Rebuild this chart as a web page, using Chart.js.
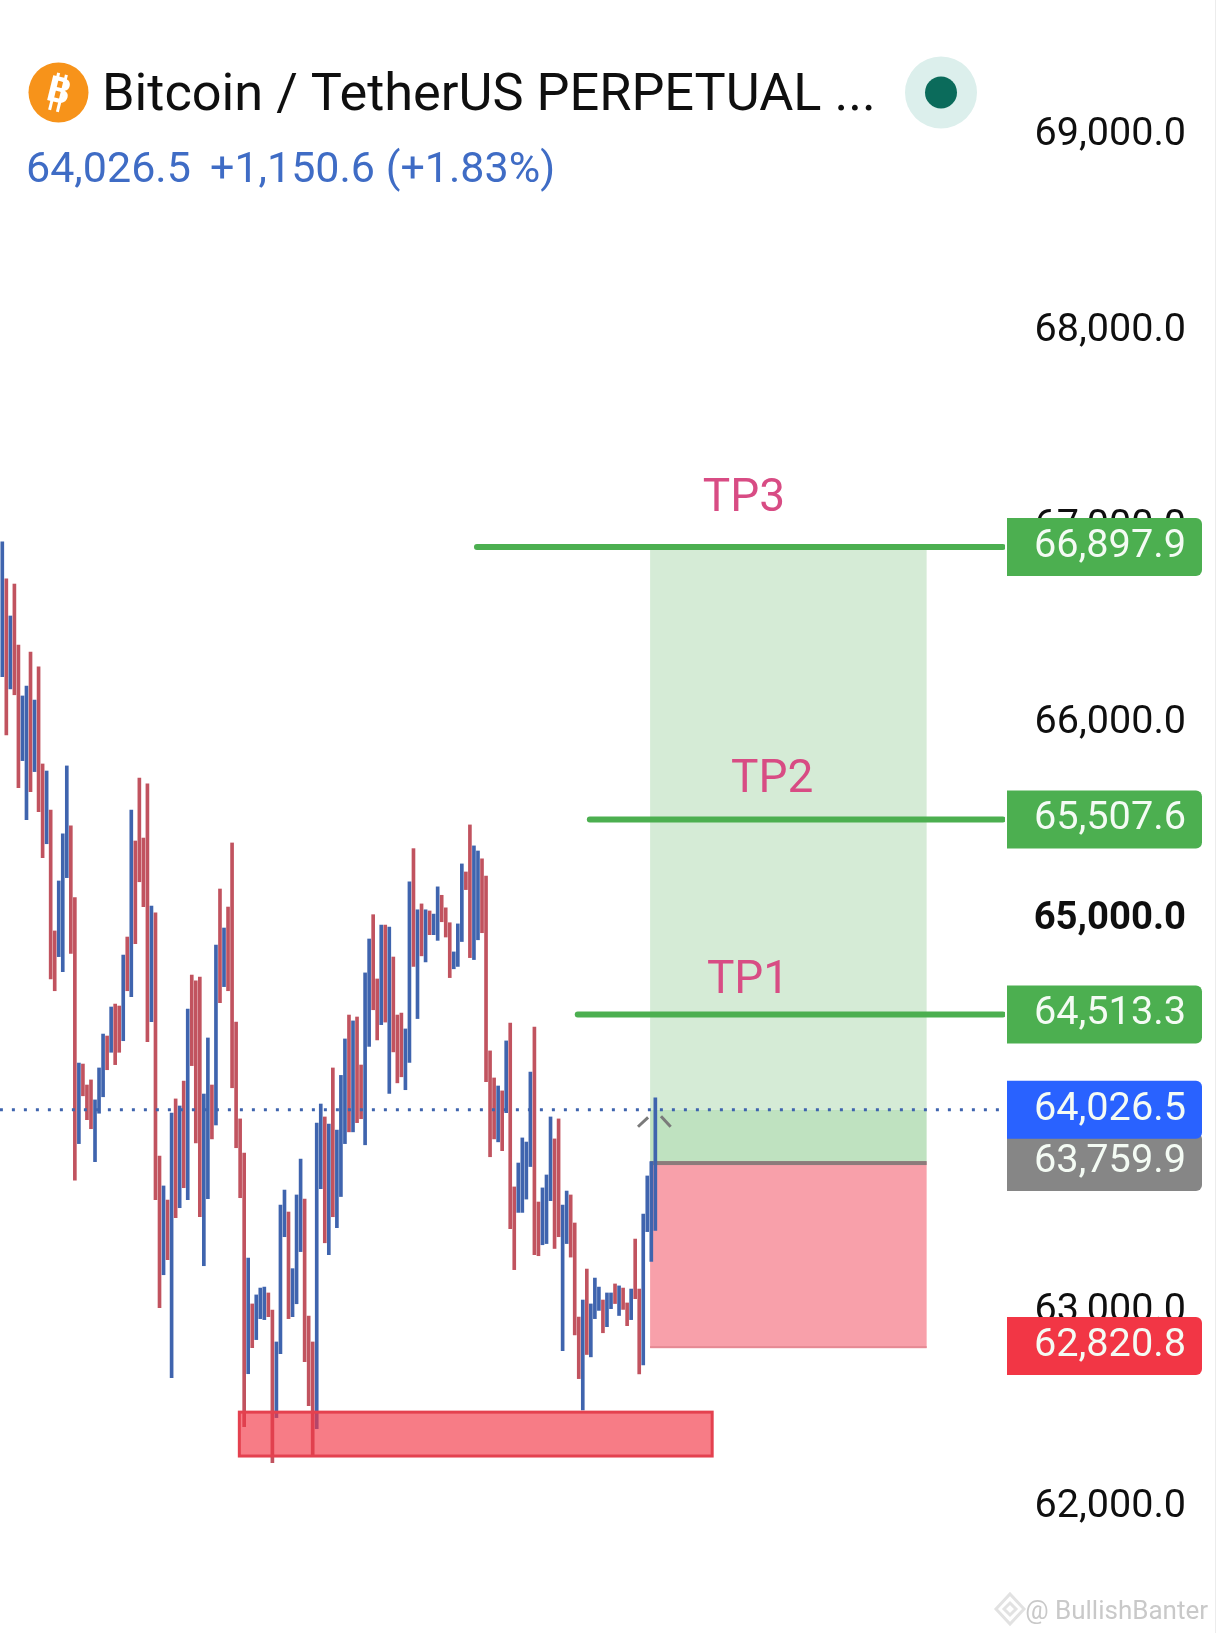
<!DOCTYPE html>
<html>
<head>
<meta charset="utf-8">
<title>BTCUSDT</title>
<script src="https://cdn.jsdelivr.net/npm/chart.js@4"></script>
<style>
  html, body { margin: 0; padding: 0; background: #fff; }
  canvas { display: block; }
</style>
</head>
<body>
<canvas id="grafico" width="1216" height="1633"></canvas>
<script>
// Bar highs, lows and direction
const highs = [
  66924,66735,66546,66709,66398,66138,66189,66362,66117,66286,65791,65755,65556,64939,65194,65434,65781,65475,65109,64265,
  64260,64153,64179,64077,64240,64413,64403,64551,64566,64556,64816,64908,65556,65398,65719,65413,65689,65066,65031,63791,
  63638,63566,64010,64082,64046,64173,64541,64714,64684,64704,64107,64393,64153,64867,65153,64954,65061,65388,64474,63980,
  63806,63270,63036,63082,63117,63122,63092,63005,62842,63541,63617,63505,63216,63592,63775,63571,62974,62842,63959,64056,
  63990,63954,64240,63923,64202,64388,64510,64480,64500,64255,64725,64898,65022,64694,64969,64969,64959,64806,64510,64520,
  64439,65189,65359,65047,65077,65047,65041,65025,65164,65121,65057,64981,64832,64975,65281,65240,65480,65373,65347,65307,
  65219,64327,64189,64148,64123,64378,64469,63633,63755,63883,63862,64219,64449,63556,63628,63694,63990,63878,63980,63541,
  63612,63592,63449,62969,63056,63214,63036,63168,63122,63056,63092,63092,63138,63128,63117,63041,63112,63367,63112,63495,
  63689,63762,64088
];
const lows = [
  66236,65939,66174,66144,65670,65808,65507,65650,65752,65548,65313,65384,64694,64634,64808,64731,65211,64825,63667,63854,
  64098,63976,63930,63762,64009,64093,64231,64320,64257,64320,64379,64634,64604,64874,65190,65063,64374,64476,63568,63017,
  63185,63262,62660,63476,63527,63629,63568,64252,63857,63481,63231,63573,63878,63949,64573,64655,64634,64139,63833,63578,
  62410,62680,62813,62854,62961,62956,62971,62226,62456,62782,63379,62961,62971,63037,63303,62741,62517,62265,62400,63624,
  63348,63287,63481,63425,63584,63854,63914,63914,63961,63981,63848,64350,64537,64383,64461,64474,64110,64322,64164,64195,
  64129,64268,64758,64492,64812,64781,64920,64920,64891,64986,64908,64701,64746,64758,64885,65150,64803,64793,64894,64930,
  64170,63787,63878,63863,63818,64012,63420,63211,63503,63503,63571,63737,63288,63282,63338,63344,63563,63319,63379,62797,
  63344,63275,62878,62655,62495,62778,62766,62961,63003,62889,62920,63012,63038,62977,63008,62925,62956,63063,62679,62725,
  63405,63253,63411
];
// 1 = blue bar, 0 = red bar
const upBars = [
  1,0,1,0,0,1,1,0,1,0,0,1,0,0,1,1,1,0,0,1,
  0,0,0,1,1,1,0,1,0,0,1,0,1,0,0,0,0,1,0,0,
  1,0,1,0,1,0,1,0,0,0,1,1,0,1,0,1,0,0,0,0,
  0,1,0,1,1,1,0,0,1,1,1,0,1,1,1,0,0,0,1,1,
  0,1,0,1,1,1,0,1,0,0,1,1,0,0,1,0,1,0,0,0,
  1,1,0,1,0,1,0,1,1,0,0,0,1,1,1,0,0,1,1,0,
  0,0,0,1,0,1,0,0,1,1,1,1,0,0,1,1,1,0,0,1,
  1,0,0,0,1,0,1,1,1,0,1,1,0,1,0,0,1,0,0,1,
  1,1,1
];

const yTicks = [62000, 63000, 64000, 65000, 66000, 67000, 68000, 69000];
const boldTick = 65000;

const titleText = "Bitcoin / TetherUS PERPETUAL ...";
const lastPrice = 64026.5;
const change = "+1,150.6";
const changePct = "(+1.83%)";

const tpNames = ["TP1", "TP2", "TP3"];
const tpPrices = [64513.3, 65507.6, 66897.9];
const tpStarts = [142.75, 145.75, 117.75];
const tpLabelPrices = [64681, 65706, 67140];
const tpLabelCenters = [185, 191, 184];
const entryPrice = 63759.9;
const stopPrice = 62820.8;
const zoneLow = 62260;
const zoneHigh = 62484;

// Bar index of the ends of the drawings
const lineEnd = 248.2;
const positionStart = 160.7;
const positionEnd = 229.3;
const zoneStart = 58.8;
const zoneEnd = 176.1;

const chevronLeftX = [157.7, 160.2];
const chevronLeftY = [63940, 63988];
const chevronRightX = [163.4, 165.8];
const chevronRightY = [63994, 63940];

const AZUL = "#3f64ae";
const ROJO = "#c1535f";
const VERDE = "#4caf50";
const FUENTE = "Roboto";

function fmt(v) {
    return v.toLocaleString("en-US", { minimumFractionDigits: 1, maximumFractionDigits: 1 });
}

function linea(xs, ys, color, width, extra) {
    return Object.assign({
        type: "line",
        data: xs.map((x, i) => ({ x: x, y: ys[i] })),
        borderColor: color,
        borderWidth: width,
        pointRadius: 0,
        tension: 0,
        order: 0
    }, extra || {});
}

function etiqueta(ctx, y, text, color) {
    ctx.fillStyle = color;
    ctx.beginPath();
    ctx.roundRect(1007, y - 29, 195, 58, [0, 6, 6, 0]);
    ctx.fill();
    ctx.fillStyle = "#f4fbf4";
    ctx.font = "39.7px " + FUENTE;
    ctx.textAlign = "right";
    ctx.textBaseline = "middle";
    ctx.fillText(text, 1186, y);
}

const zonas = {
    id: "zonas",
    beforeDatasetsDraw(chart) {
        const { ctx, scales: { x, y } } = chart;
        const l = x.getPixelForValue(positionStart);
        const r = x.getPixelForValue(positionEnd);
        const top = y.getPixelForValue(tpPrices[2]);
        const last = y.getPixelForValue(lastPrice);
        const entry = y.getPixelForValue(entryPrice);
        const stop = y.getPixelForValue(stopPrice);
        ctx.save();
        ctx.fillStyle = "#d5ebd6";
        ctx.fillRect(l, top, r - l, last - top);
        ctx.fillStyle = "#bfe2c0";
        ctx.fillRect(l, last, r - l, entry - last);
        ctx.fillStyle = "#f8a0aa";
        ctx.fillRect(l, entry, r - l, stop - entry + 2);
        ctx.fillStyle = "#e58a94";
        ctx.fillRect(l, stop, r - l, 2);
        ctx.fillStyle = "#8c7b7b";
        ctx.fillRect(l, entry - 1, r - l, 4);
        ctx.restore();
    },
    afterDatasetsDraw(chart) {
        const { ctx, scales: { x, y } } = chart;
        ctx.save();

        // Caja roja de soporte, encima de las barras
        const zl = x.getPixelForValue(zoneStart);
        const zr = x.getPixelForValue(zoneEnd);
        const zt = y.getPixelForValue(zoneHigh);
        const zb = y.getPixelForValue(zoneLow);
        ctx.fillStyle = "rgba(242,54,69,0.65)";
        ctx.fillRect(zl, zt, zr - zl, zb - zt);
        ctx.strokeStyle = "#e4414f";
        ctx.lineWidth = 3;
        ctx.strokeRect(zl, zt, zr - zl, zb - zt);

        // Textos TP
        ctx.fillStyle = "#d84c84";
        ctx.font = "46px " + FUENTE;
        ctx.textAlign = "center";
        ctx.textBaseline = "middle";
        tpNames.forEach((name, i) => {
            ctx.fillText(name, x.getPixelForValue(tpLabelCenters[i]), y.getPixelForValue(tpLabelPrices[i]));
        });

        // Etiquetas de precio
        tpPrices.forEach(p => etiqueta(ctx, y.getPixelForValue(p), fmt(p), VERDE));
        etiqueta(ctx, y.getPixelForValue(entryPrice), fmt(entryPrice), "#868686");
        etiqueta(ctx, y.getPixelForValue(lastPrice), fmt(lastPrice), "#2962ff");
        etiqueta(ctx, y.getPixelForValue(stopPrice), fmt(stopPrice), "#f23645");

        // Cabecera
        ctx.textAlign = "left";
        ctx.textBaseline = "alphabetic";
        ctx.fillStyle = "#f7931a";
        ctx.beginPath();
        ctx.arc(58.5, 92.5, 30, 0, Math.PI * 2);
        ctx.fill();
        ctx.save();
        ctx.translate(58.5, 92.5);
        ctx.rotate(0.24);
        ctx.fillStyle = "#fff";
        ctx.font = "bold 36px " + FUENTE;
        ctx.textAlign = "center";
        ctx.textBaseline = "middle";
        ctx.fillText("B", 0, 1);
        ctx.fillRect(-6, -19, 3, 38);
        ctx.fillRect(2, -19, 3, 38);
        ctx.restore();

        ctx.fillStyle = "#0f0f0f";
        ctx.font = "52.3px " + FUENTE;
        ctx.fillText(titleText, 102, 110);

        ctx.fillStyle = "#dcefec";
        ctx.beginPath();
        ctx.arc(941, 92.5, 36, 0, Math.PI * 2);
        ctx.fill();
        ctx.fillStyle = "#0b6b5b";
        ctx.beginPath();
        ctx.arc(941, 92.5, 16, 0, Math.PI * 2);
        ctx.fill();

        ctx.fillStyle = "#3f6cc5";
        ctx.font = "43px " + FUENTE;
        ctx.fillText(fmt(lastPrice), 26, 182);
        ctx.fillText(change + " " + changePct, 210, 182);

        // Marca de agua
        ctx.fillStyle = "#c9c9c9";
        ctx.font = "26px " + FUENTE;
        ctx.textAlign = "right";
        ctx.fillText("@ BullishBanter", 1208, 1619);
        ctx.strokeStyle = "#e2e2e2";
        ctx.lineWidth = 3;
        ctx.beginPath();
        ctx.moveTo(1010, 1594);
        ctx.lineTo(1024, 1609);
        ctx.lineTo(1010, 1624);
        ctx.lineTo(996, 1609);
        ctx.closePath();
        ctx.moveTo(1010, 1603);
        ctx.lineTo(1016, 1609);
        ctx.lineTo(1010, 1615);
        ctx.lineTo(1004, 1609);
        ctx.closePath();
        ctx.stroke();

        // Borde derecho de la captura
        ctx.fillStyle = "#ececec";
        ctx.fillRect(1215, 0, 1, 1633);
        ctx.restore();
    }
};

const barras = highs.map((h, i) => ({ x: i, y: [lows[i], h] }));

new Chart(document.getElementById("grafico").getContext("2d"), {
    type: "bar",
    data: {
        datasets: [
            {
                data: barras,
                backgroundColor: upBars.map(u => (u ? AZUL : ROJO)),
                barThickness: 3,
                grouped: false,
                order: 1
            },
            linea([-0.6, lineEnd], [lastPrice, lastPrice], "#3f64ae", 3, { borderDash: [3, 9] }),
            linea([tpStarts[0], lineEnd], [tpPrices[0], tpPrices[0]], VERDE, 6, { borderCapStyle: "round" }),
            linea([tpStarts[1], lineEnd], [tpPrices[1], tpPrices[1]], VERDE, 6, { borderCapStyle: "round" }),
            linea([tpStarts[2], lineEnd], [tpPrices[2], tpPrices[2]], VERDE, 6, { borderCapStyle: "round" }),
            linea(chevronLeftX, chevronLeftY, "#7a7a7a", 3),
            linea(chevronRightX, chevronRightY, "#7a7a7a", 3)
        ]
    },
    options: {
        responsive: false,
        animation: false,
        devicePixelRatio: 1,
        // el texto del eje termina en 1186, igual que en la captura
        layout: { padding: { left: 0, top: 0, bottom: 0, right: 30 } },
        plugins: { legend: { display: false }, tooltip: { enabled: false } },
        scales: {
            x: {
                type: "linear",
                display: false,
                offset: false,
                min: -0.5706,
                max: 248.74
            },
            y: {
                position: "right",
                min: 61357.1,
                max: 69688.8,
                grid: { display: false, drawTicks: false },
                border: { display: false },
                afterBuildTicks(scale) {
                    scale.ticks = yTicks.map(v => ({ value: v }));
                },
                afterFit(scale) {
                    // que el area llegue a los bordes del lienzo
                    scale.width = 181;
                    scale.paddingTop = 0;
                    scale.paddingBottom = 0;
                },
                ticks: {
                    autoSkip: false,
                    padding: 0,
                    crossAlign: "far",
                    labelOffset: 0,
                    color: "#0f0f0f",
                    font: c => (c.tick && c.tick.value === boldTick
                        ? { family: FUENTE, size: 38.3, weight: "bold" }
                        : { family: FUENTE, size: 39.5, weight: "normal" }),
                    callback: v => fmt(v)
                }
            }
        }
    },
    plugins: [zonas]
});
</script>
</body>
</html>
